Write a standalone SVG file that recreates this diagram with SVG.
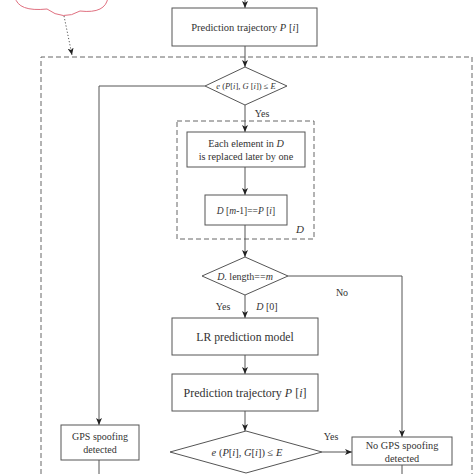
<svg xmlns="http://www.w3.org/2000/svg" width="474" height="474" viewBox="0 0 474 474">
<defs>
<marker id="ah" markerWidth="7" markerHeight="6" refX="7" refY="3" orient="auto" markerUnits="userSpaceOnUse">
<path d="M0,0 L7,3 L0,6 L1.8,3 z" fill="#222"/>
</marker>
<style>
.box{fill:#fff;stroke:#555;stroke-width:1}
.ln{fill:none;stroke:#555;stroke-width:1}
.t{font-family:"Liberation Serif",serif;fill:#333;text-anchor:middle}
.i{font-style:italic}
</style>
</defs>
<rect width="474" height="474" fill="#fff"/>
<g id="cloud">
<path d="M15,-3 Q18,12 47,9 Q63,21 80,11 Q106,14 108,-3" fill="#fff" stroke="#e07080" stroke-width="1"/>
</g>
<g id="outer-region">
<path d="M41,474 L41,57 L472,57 L472,474" fill="none" stroke="#666" stroke-width="1" stroke-dasharray="5,3"/>
</g>
<g id="inner-region">
<rect x="177" y="121" width="137" height="118" fill="none" stroke="#666" stroke-width="1" stroke-dasharray="5,3"/>
<text class="t i" x="300" y="233" font-size="11">D</text>
</g>
<g id="connectors">
<line class="ln" x1="64" y1="16" x2="72" y2="55" stroke-dasharray="1.2,2" stroke="#444" marker-end="url(#ah)"/>
<line class="ln" x1="245" y1="0" x2="245" y2="8" marker-end="url(#ah)"/>
<line class="ln" x1="245" y1="46" x2="245" y2="67" marker-end="url(#ah)"/>
<polyline class="ln" points="205,86 99,86 99,425" marker-end="url(#ah)"/>
<line class="ln" x1="245" y1="105" x2="245" y2="132" marker-end="url(#ah)"/>
<line class="ln" x1="245" y1="167" x2="245" y2="195" marker-end="url(#ah)"/>
<line class="ln" x1="245" y1="225" x2="245" y2="257" marker-end="url(#ah)"/>
<polyline class="ln" points="288,276 402,276 402,437" marker-end="url(#ah)"/>
<line class="ln" x1="245" y1="295" x2="245" y2="318" marker-end="url(#ah)"/>
<line class="ln" x1="245" y1="355" x2="245" y2="374" marker-end="url(#ah)"/>
<line class="ln" x1="245" y1="411" x2="245" y2="431" marker-end="url(#ah)"/>
<line class="ln" x1="322" y1="452" x2="352" y2="452" marker-end="url(#ah)"/>
<line class="ln" x1="402" y1="465" x2="402" y2="474"/>
<line class="ln" x1="99" y1="460" x2="99" y2="474"/>
<text class="t" x="262" y="117" font-size="10">Yes</text>
<text class="t" x="342" y="296" font-size="10">No</text>
<text class="t" x="223" y="310" font-size="10">Yes</text>
<text class="t" x="267" y="310" font-size="10"><tspan class="i">D</tspan> [0]</text>
<text class="t" x="331" y="440" font-size="10">Yes</text>
</g>
<g id="pred1">
<rect class="box" x="172" y="8" width="145" height="38"/>
<text class="t" x="245" y="30.5" font-size="10.5">Prediction trajectory <tspan class="i">P</tspan> [<tspan class="i">i</tspan>]</text>
</g>
<g id="cond1">
<polygon class="box" points="245,67 287,86 245,105 205,86"/>
<text class="t" x="246" y="89" font-size="8.5"><tspan class="i">e</tspan> (<tspan class="i">P</tspan>[<tspan class="i">i</tspan>], <tspan class="i">G</tspan> [<tspan class="i">i</tspan>]) ≤ <tspan class="i">E</tspan></text>
</g>
<g id="shift">
<rect class="box" x="187" y="132" width="118" height="35"/>
<text class="t" x="246" y="147" font-size="10.2">Each element in <tspan class="i">D</tspan></text>
<text class="t" x="246" y="160" font-size="10.2">is replaced later by one</text>
</g>
<g id="assign">
<rect class="box" x="205" y="195" width="82" height="30"/>
<text class="t" x="246" y="213.5" font-size="9.5"><tspan class="i">D</tspan> [<tspan class="i">m</tspan>-1]==<tspan class="i">P</tspan> [<tspan class="i">i</tspan>]</text>
</g>
<g id="cond2">
<polygon class="box" points="245,257 288,276 245,295 202,276"/>
<text class="t" x="245" y="279.5" font-size="10"><tspan class="i">D</tspan>. length==<tspan class="i">m</tspan></text>
</g>
<g id="lr">
<rect class="box" x="172" y="318" width="146" height="37"/>
<text class="t" x="245" y="340.5" font-size="11.7">LR prediction model</text>
</g>
<g id="pred2">
<rect class="box" x="172" y="374" width="146" height="37"/>
<text class="t" x="245" y="396.5" font-size="12">Prediction trajectory <tspan class="i">P</tspan> [<tspan class="i">i</tspan>]</text>
</g>
<g id="cond3">
<polygon class="box" points="246,431 322,452 246,473 170,452"/>
<text class="t" x="247" y="456" font-size="10.5"><tspan class="i">e</tspan> (<tspan class="i">P</tspan>[<tspan class="i">i</tspan>], <tspan class="i">G</tspan>[<tspan class="i">i</tspan>]) ≤ <tspan class="i">E</tspan></text>
</g>
<g id="spoof">
<rect class="box" x="61" y="425" width="78" height="35"/>
<text class="t" x="100" y="440" font-size="10">GPS spoofing</text>
<text class="t" x="100" y="453" font-size="10">detected</text>
</g>
<g id="nospoof">
<rect class="box" x="352" y="437" width="100" height="28"/>
<text class="t" x="402" y="449" font-size="10.3">No GPS spoofing</text>
<text class="t" x="402" y="462" font-size="10.3">detected</text>
</g>
</svg>
